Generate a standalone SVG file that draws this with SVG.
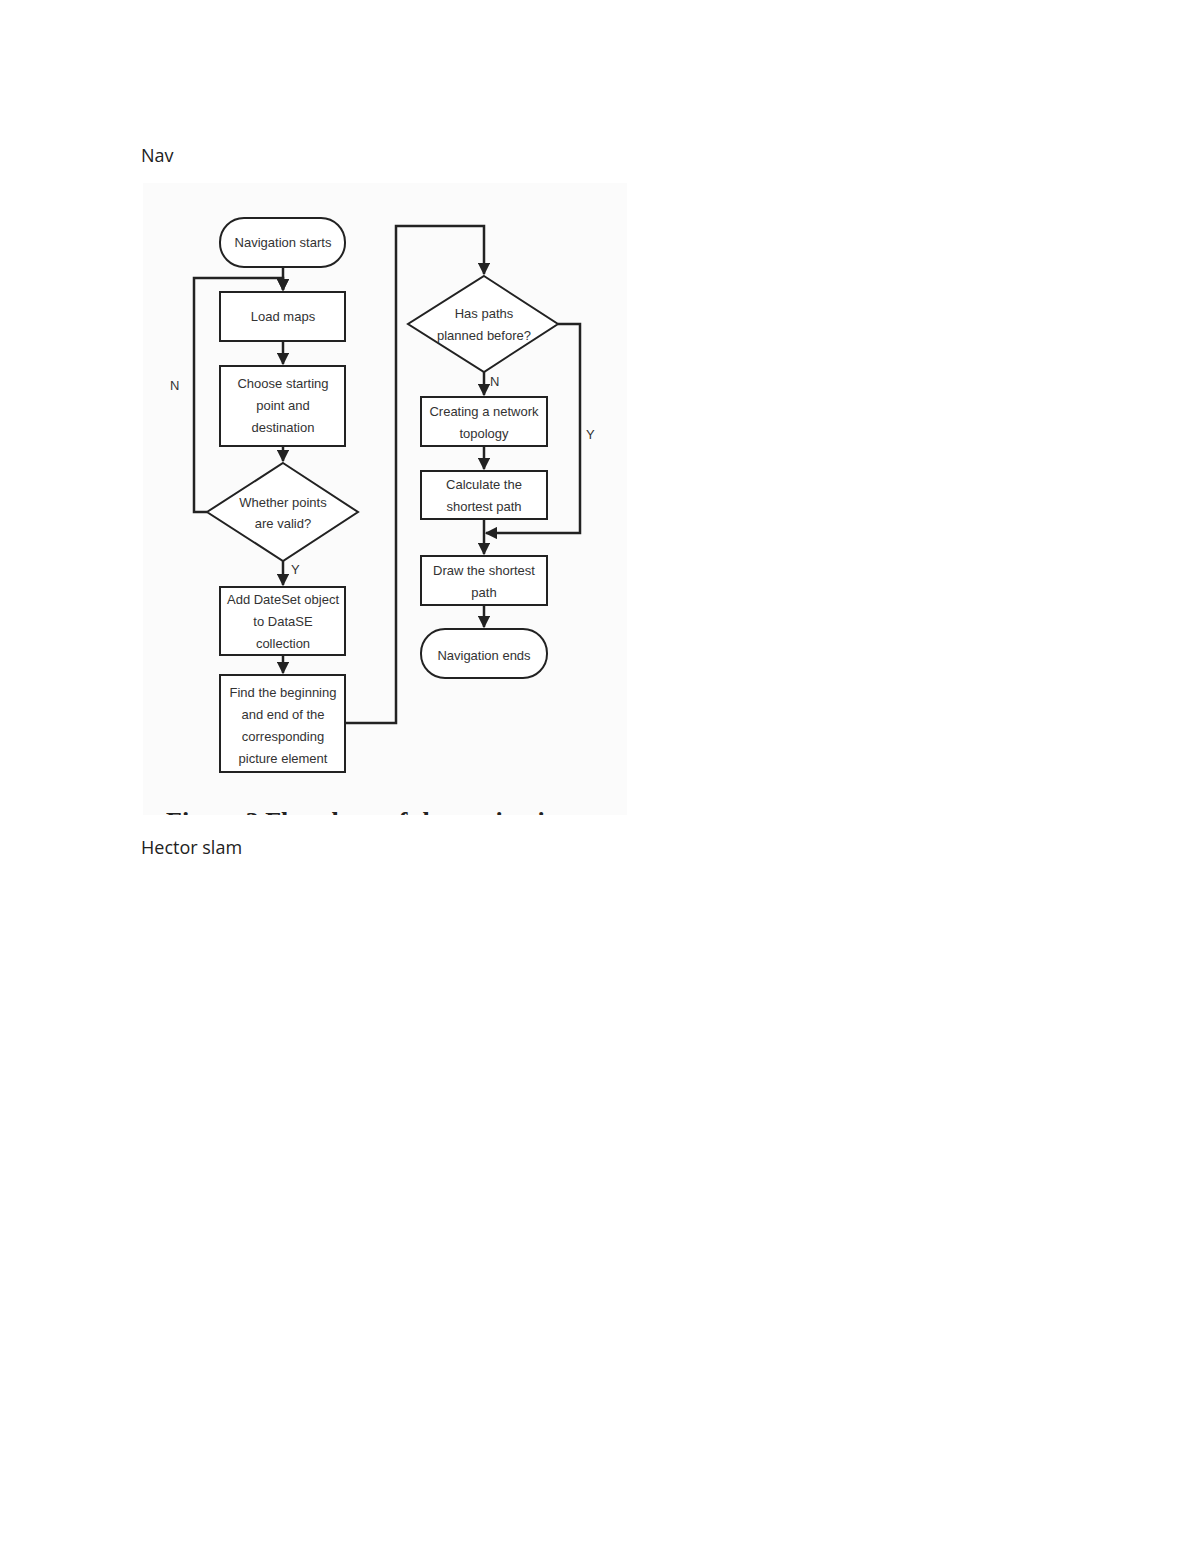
<svg xmlns="http://www.w3.org/2000/svg" width="1200" height="1553" viewBox="0 0 1200 1553">
<style>
.page{font-family:"Open Sans","Liberation Sans",sans-serif;font-size:18px;fill:#222}
.box{fill:#fff;stroke:#222;stroke-width:2}
.t{font-family:"Liberation Sans","DejaVu Sans",sans-serif;font-size:13px;fill:#333;text-anchor:middle}
.lbl{font-family:"Liberation Sans","DejaVu Sans",sans-serif;font-size:13px;fill:#333}
.c{fill:none;stroke:#222;stroke-width:2.5}
.cap{font-family:"Liberation Serif",serif;font-size:26px;font-weight:bold;fill:#222}
</style>
<defs>
<marker id="ah" viewBox="0 0 10 10" refX="9" refY="5" markerWidth="5" markerHeight="5" orient="auto" markerUnits="strokeWidth">
<path d="M0,0 L10,5 L0,10 z" fill="#222"/>
</marker>
<clipPath id="capclip"><rect x="143" y="183" width="484" height="632"/></clipPath>
</defs>
<rect width="1200" height="1553" fill="#fff"/>
<text class="page" x="141" y="162">Nav</text>
<text class="page" x="141" y="854">Hector slam</text>
<rect x="143" y="183" width="484" height="632" fill="#fbfbfb"/>
<text class="cap" x="166" y="830" clip-path="url(#capclip)">Figure 3 Flowchart of the navigation</text>

<g id="connectors">
<path class="c" d="M283,267 V290" marker-end="url(#ah)"/>
<path class="c" d="M207,512 H194 V278 H283 V290" marker-end="url(#ah)"/>
<path class="c" d="M283,341 V364" marker-end="url(#ah)"/>
<path class="c" d="M283,446 V461" marker-end="url(#ah)"/>
<path class="c" d="M283,561 V585" marker-end="url(#ah)"/>
<path class="c" d="M283,655 V673" marker-end="url(#ah)"/>
<path class="c" d="M345,723 H396 V226 H484 V274" marker-end="url(#ah)"/>
<path class="c" d="M484,372 V395" marker-end="url(#ah)"/>
<path class="c" d="M484,446 V469" marker-end="url(#ah)"/>
<path class="c" d="M484,519 V554" marker-end="url(#ah)"/>
<path class="c" d="M558,324 H580 V533 H486" marker-end="url(#ah)"/>
<path class="c" d="M484,605 V627" marker-end="url(#ah)"/>
<text class="lbl" x="170" y="390">N</text>
<text class="lbl" x="291" y="574">Y</text>
<text class="lbl" x="490" y="386">N</text>
<text class="lbl" x="586" y="439">Y</text>
</g>

<g id="n-start">
<rect class="box" x="220" y="218" width="125" height="49" rx="24"/>
<text class="t" x="283" y="247">Navigation starts</text>
</g>
<g id="n-load">
<rect class="box" x="220" y="292" width="125" height="49"/>
<text class="t" x="283" y="321">Load maps</text>
</g>
<g id="n-choose">
<rect class="box" x="220" y="366" width="125" height="80"/>
<text class="t" x="283" y="388">Choose starting</text>
<text class="t" x="283" y="410">point and</text>
<text class="t" x="283" y="432">destination</text>
</g>
<g id="n-valid">
<polygon class="box" points="283,463 358,512 283,561 207,512"/>
<text class="t" x="283" y="507">Whether points</text>
<text class="t" x="283" y="528">are valid?</text>
</g>
<g id="n-add">
<rect class="box" x="220" y="587" width="125" height="68"/>
<text class="t" x="283" y="604">Add DateSet object</text>
<text class="t" x="283" y="626">to DataSE</text>
<text class="t" x="283" y="648">collection</text>
</g>
<g id="n-find">
<rect class="box" x="220" y="675" width="125" height="97"/>
<text class="t" x="283" y="697">Find the beginning</text>
<text class="t" x="283" y="719">and end of the</text>
<text class="t" x="283" y="741">corresponding</text>
<text class="t" x="283" y="763">picture element</text>
</g>
<g id="n-planned">
<polygon class="box" points="484,276 558,324 484,372 408,324"/>
<text class="t" x="484" y="318">Has paths</text>
<text class="t" x="484" y="340">planned before?</text>
</g>
<g id="n-topology">
<rect class="box" x="421" y="397" width="126" height="49"/>
<text class="t" x="484" y="416">Creating a network</text>
<text class="t" x="484" y="438">topology</text>
</g>
<g id="n-calc">
<rect class="box" x="421" y="471" width="126" height="48"/>
<text class="t" x="484" y="489">Calculate the</text>
<text class="t" x="484" y="511">shortest path</text>
</g>
<g id="n-draw">
<rect class="box" x="421" y="556" width="126" height="49"/>
<text class="t" x="484" y="575">Draw the shortest</text>
<text class="t" x="484" y="597">path</text>
</g>
<g id="n-end">
<rect class="box" x="421" y="629" width="126" height="49" rx="24"/>
<text class="t" x="484" y="660">Navigation ends</text>
</g>
</svg>
